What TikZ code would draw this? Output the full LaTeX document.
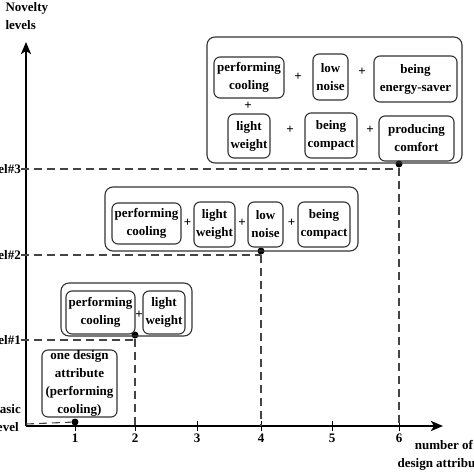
\documentclass[tikz,border=0pt]{standalone}
\usepackage{fontspec}
\setmainfont{Liberation Serif}
\usetikzlibrary{arrows.meta}
\definecolor{boxc}{HTML}{333333}
\definecolor{dashc}{HTML}{444444}
\begin{document}
\begin{tikzpicture}[x=1pt,y=-1pt,
  txt/.style={font=\bfseries\fontsize{13}{18}\selectfont, align=center, text=black},
  abox/.style 2 args={txt, draw=boxc, line width=1.1pt, rounded corners=6pt, inner sep=0pt, minimum width=#1pt, minimum height=#2pt},
  grp/.style 2 args={draw=boxc, line width=1.1pt, rounded corners=8pt, inner sep=0pt, minimum width=#1pt, minimum height=#2pt},
  plus/.style={txt, inner sep=0pt},
  guide/.style={dash pattern=on 8pt off 5pt, line width=1.1pt, draw=dashc},
  dot/.style={circle, fill=black, inner sep=0pt, minimum size=7pt},
  axis/.style={line width=2.6pt, -{Stealth[length=12pt,width=10pt,inset=3pt]}},
  tick/.style={line width=1pt},
  lab/.style={txt}
]
\useasboundingbox (0,0) rectangle (474,474);

% axes
\coordinate (O) at (26,426);
\coordinate (ytop) at (26,42);
\coordinate (xend) at (443,426);
\draw[axis] (O) -- (ytop);
\draw[axis] (O) -- (xend);

% axis labels
\node[lab, align=left, anchor=west] (ylab) at (2,16) {Novelty\\levels};
\node[lab, align=center] (xlab) at (444,455) {number of\\design attributes};

% level labels
\node[lab, anchor=east, inner sep=0pt] (lv3) at (21,169) {Level\#3};
\node[lab, anchor=east, inner sep=0pt] (lv2) at (21,255) {Level\#2};
\node[lab, anchor=east, inner sep=0pt] (lv1) at (21,340) {Level\#1};
\node[lab, align=center] (lv0) at (6,418) {Basic\\level};

% x ticks
\foreach \n/\x in {1/75,2/135,3/197,4/261,5/332,6/399}{
  \coordinate (t\n) at (\x,426);
  \draw[tick] ([yshift=-5pt]t\n) -- ([yshift=5pt]t\n);
  \node[lab] (tl\n) at (\x,438) {\n};
}

% dots
\node[dot] (d0) at (75,422) {};
\node[dot] (d1) at (135,335) {};
\node[dot] (d2) at (261,251) {};
\node[dot] (d3) at (399,164) {};

% guide lines
\coordinate (h3) at (21,169);
\coordinate (h2) at (21,255);
\coordinate (h1) at (21,340);
\coordinate (h0) at (26,424);
\draw[guide] (h3) -- (h3 -| d3);
\draw[guide] (d3) -- (t6);
\draw[guide] (h2) -- (h2 -| d2);
\draw[guide] (d2) -- (t4);
\draw[guide] (h1) -- (h1 -| d1);
\draw[guide] (d1) -- (t2);
\draw[guide] (h0) -- (d0);

% basic
\node[abox={75}{67}] (b0) at (79.5,383.5) {one design\\attribute\\(performing\\cooling)};

% level 1
\node[grp={131}{53}] (g1) at (126.5,309.5) {};
\node[abox={69}{43}] (pc1) at (100.5,312.5) {performing\\cooling};
\node[plus] (p11) at (139,315) {+};
\node[abox={42}{43}] (lw1) at (164,312.5) {light\\weight};

% level 2
\node[grp={253}{64}] (g2) at (231.5,219) {};
\node[abox={69}{41}] (pc2) at (146.5,223.5) {performing\\cooling};
\node[plus] (p21) at (187.5,223) {+};
\node[abox={41}{45}] (lw2) at (214.5,224.5) {light\\weight};
\node[plus] (p22) at (242,223) {+};
\node[abox={35}{45}] (ln2) at (265.5,224.5) {low\\noise};
\node[plus] (p23) at (291.5,223) {+};
\node[abox={52}{45}] (bc2) at (324,224.5) {being\\compact};

% level 3
\node[grp={255}{126}] (g3) at (334.5,100) {};
\node[abox={70}{41}] (pc3) at (249,77.5) {performing\\cooling};
\node[plus] (p31) at (298,77) {+};
\node[abox={35}{46}] (ln3) at (330.5,77) {low\\noise};
\node[plus] (p32) at (362,72) {+};
\node[abox={83}{46}] (be3) at (415.5,79) {being\\energy-saver};
\node[plus] (p33) at (248,106) {+};
\node[abox={42}{44}] (lw3) at (249,136) {light\\weight};
\node[plus] (p34) at (290,130) {+};
\node[abox={52}{45}] (bc3) at (331,135.5) {being\\compact};
\node[plus] (p35) at (370,130) {+};
\node[abox={75}{45}] (pf3) at (416.5,138.5) {producing\\comfort};
\end{tikzpicture}
\end{document}
